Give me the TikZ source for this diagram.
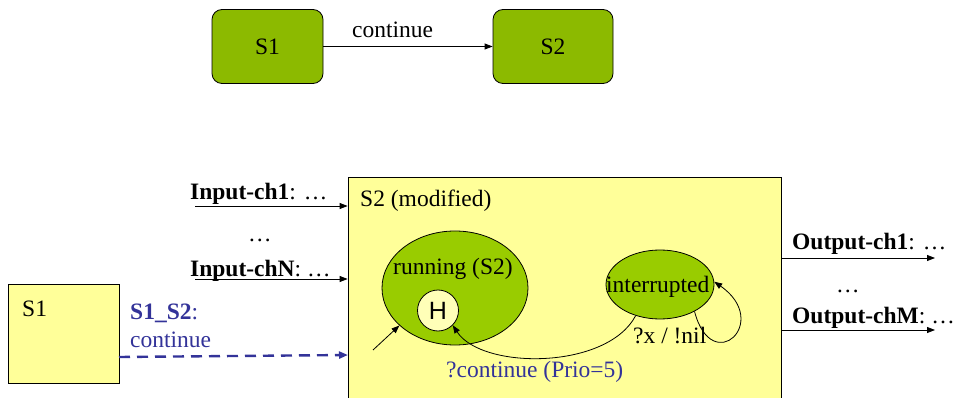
\documentclass[tikz,border=0pt]{standalone}
\usepackage{fontspec}
\setmainfont{Liberation Serif}
\newfontfamily\arialfont{Liberation Sans}
\usetikzlibrary{arrows.meta,shapes.geometric}
\definecolor{topgreen}{RGB}{140,186,0}
\definecolor{ellgreen}{RGB}{153,204,0}
\definecolor{lyellow}{RGB}{255,255,153}
\definecolor{dblue}{RGB}{51,51,153}
\tikzset{
  every node/.style={font=\fontsize{23.5}{27}\selectfont, inner sep=0pt},
  tip/.style={-{Triangle[length=8pt,width=6pt]}},
  conn/.style={line width=0.8pt, tip},
  greenbox/.style={draw, line width=0.8pt, fill=topgreen, rounded corners=10pt},
  yellowbox/.style={draw, line width=0.8pt, fill=lyellow},
  stateell/.style={draw, line width=0.8pt, fill=ellgreen, ellipse},
  lbl/.style={anchor=base west},
}
\begin{document}
\begin{tikzpicture}[x=1pt,y=-1pt]
\clip (0,0) rectangle (961,398);
\fill[white] (0,0) rectangle (961,398);
% top part
\node[greenbox, minimum width=111, minimum height=74] (s1top) at (267.5,46.5) {S1};
\node[greenbox, minimum width=120, minimum height=74] (s2top) at (553,46.5) {S2};
\draw[conn] (s1top.east) -- (s2top.west);
\node[lbl] (contlbl) at (352,38) {continue};
% big box
\node[yellowbox, minimum width=433, minimum height=240] (s2m) at (564.5,297) {};
\node[lbl] (s2mlbl) at (360,207) {S2 (modified)};
% S1 lower
\node[yellowbox, minimum width=111, minimum height=99] (s1low) at (63.5,333.5) {};
\node[lbl] (s1lbl) at (22,316) {S1};
% inputs
\coordinate (in1) at (195,206);
\coordinate (inN) at (195,279);
\draw[conn] (in1) -- (in1 -| s2m.west);
\draw[conn] (inN) -- (inN -| s2m.west);
\node[lbl] (lin1) at (190,200) {\textbf{Input-ch1}: …};
\node[lbl] (ldots) at (248,241) {…};
\node[lbl] (linN) at (190,276) {\textbf{Input-chN}: …};
% dashed
\coordinate (dstart) at (119,357);
\coordinate (dend) at (348,355);
\draw[line width=2.4pt, dblue, dash pattern=on 11pt off 7pt, -{Triangle[length=9pt,width=7pt]}] (dstart) -- (dend);
\node[lbl, text=dblue] (s1s2) at (130,319) {\textbf{S1\_S2}:};
\node[lbl, text=dblue] (s1s2b) at (130,347) {continue};
% states
\node[stateell, minimum width=146, minimum height=114] (run) at (455,288) {};
\node[lbl] (runlbl) at (393,274) {running (S2)};
\node[draw, circle, line width=0.8pt, fill=lyellow!70!white, minimum size=41, font=\arialfont\fontsize{25}{27}\selectfont] (H) at (438,310.5) {H};
\node[stateell, minimum width=108, minimum height=69] (int) at (660,284.5) {};
\node[lbl] (intlbl) at (606,292) {interrupted};
\coordinate (init) at (373,350);
\draw[conn] (init) -- (run.-146);
\draw[conn] (int.-128) .. controls (607,370) and (482,370) .. (H.-45);
\draw[conn] (int.-38) .. controls (712,378) and (772,322) .. (int.3);
\node[lbl] (xnil) at (633,343) {?x / !nil};
\node[lbl, text=dblue] (contprio) at (446,377) {?continue (Prio=5)};
% outputs
\coordinate (out1) at (935,258);
\coordinate (outM) at (935,330);
\draw[conn] (out1 -| s2m.east) -- (out1);
\draw[conn] (outM -| s2m.east) -- (outM);
\node[lbl] (lout1) at (792,250) {\textbf{Output-ch1}: …};
\node[lbl] (lodots) at (836,292) {…};
\node[lbl] (loutM) at (792,323) {\textbf{Output-chM}: …};
\end{tikzpicture}
\end{document}
